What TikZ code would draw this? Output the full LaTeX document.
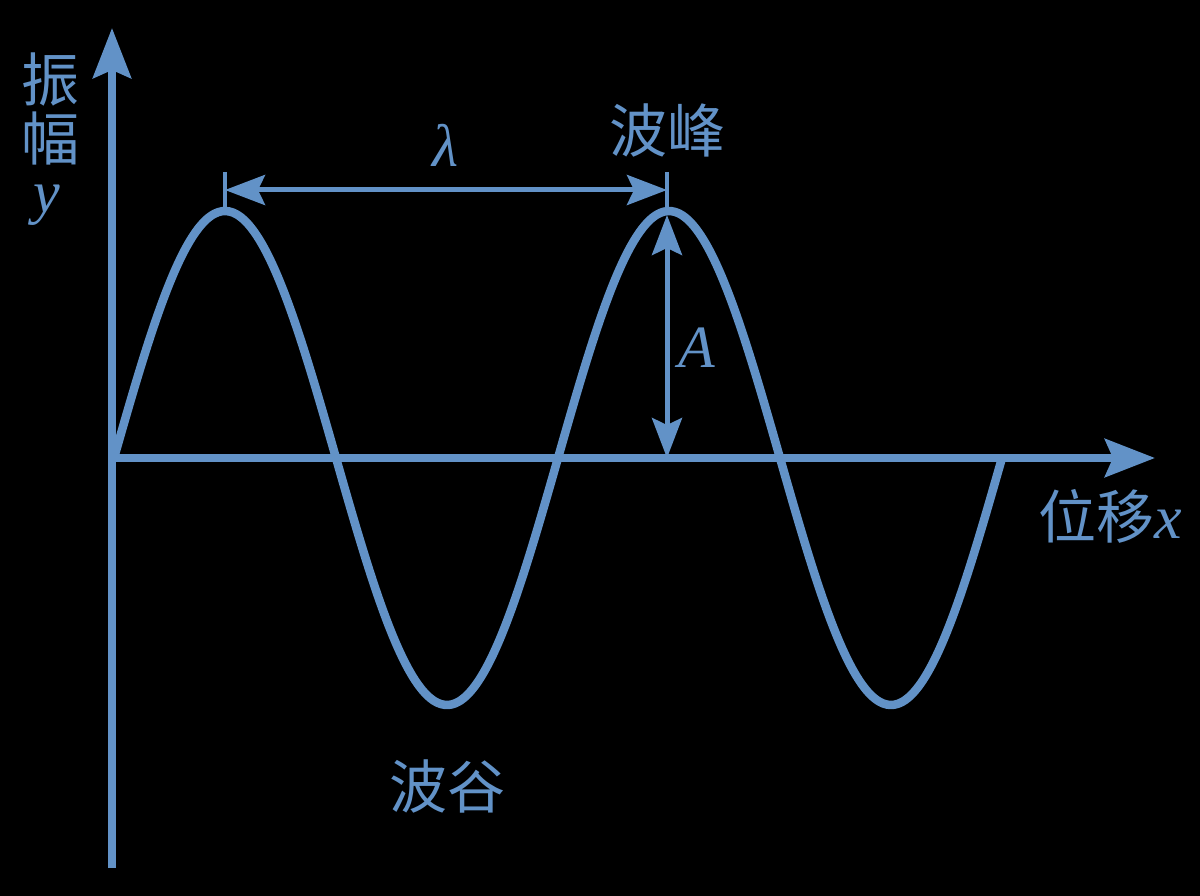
\documentclass[tikz,border=0pt]{standalone}
\usepackage{fontspec}
\setmainfont{Liberation Serif}
\newfontfamily\cjk{Noto Sans CJK SC}
\usetikzlibrary{arrows.meta}
\definecolor{wave}{RGB}{98,146,199}
\tikzset{
  axisline/.style={draw=wave, line width=8pt, -{Stealth[length=50pt,width=38pt,inset=8pt]}},
  waveline/.style={draw=wave, line width=8.5pt, line join=round},
  dimline/.style={draw=wave, line width=5pt, {Stealth[length=40pt,width=30pt,inset=7pt]}-{Stealth[length=40pt,width=30pt,inset=7pt]}},
  tickline/.style={draw=wave, line width=4pt},
  cjklabel/.style={text=wave, inner sep=0pt, anchor=base, text height=48pt, text depth=3pt, font=\cjk\fontsize{58}{60}\selectfont},
  mathlabel/.style={text=wave, inner sep=0pt, anchor=base, font=\rmfamily\itshape\fontsize{60}{62}\selectfont},
}
\begin{document}
\begin{tikzpicture}[x=1pt,y=-1pt]
\fill[black] (0,0) rectangle (1200,896);
\useasboundingbox (0,0) rectangle (1200,896);
% axes
\coordinate (O) at (112,458);
\coordinate (ybot) at (112,868);
\coordinate (ytop) at (112,28);
\coordinate (xend) at (1155,458);
\draw[axisline] (ybot) -- (ytop);
\draw[axisline] (O) -- (xend);
% wave
\draw[waveline] plot[domain=0:720, samples=240, smooth] ({114+\x*1.233333},{458-247*sin(\x)});
% wavelength marker
\coordinate (p1) at (225,212);
\coordinate (p2) at (667,212);
\coordinate (t1) at (225,172);
\coordinate (t2) at (667,172);
\coordinate (l1) at (225,190);
\coordinate (l2) at (667,190);
\coordinate (pk) at (667,215);
\coordinate (ax) at (667,458);
\draw[tickline] (t1) -- (p1);
\draw[tickline] (t2) -- (p2);
\draw[dimline] (l1) -- (l2);
\draw[dimline] (pk) -- (ax);
% labels
\node[cjklabel] (zhen) at (50,102) {振};
\node[cjklabel] (fu) at (50,161) {幅};
\node[mathlabel] (ylab) at (47,213) {y};
\node[mathlabel] (lam) at (445,167) {λ};
\node[mathlabel] (Alab) at (697,367) {A};
\node[cjklabel] (crest) at (667,153) {波峰};
\node[cjklabel] (trough) at (447,808) {波谷};
\node[cjklabel, anchor=base west] (disp) at (1038,538) {位移{\rmfamily\itshape\fontsize{62}{64}\selectfont x}};
\end{tikzpicture}
\end{document}
